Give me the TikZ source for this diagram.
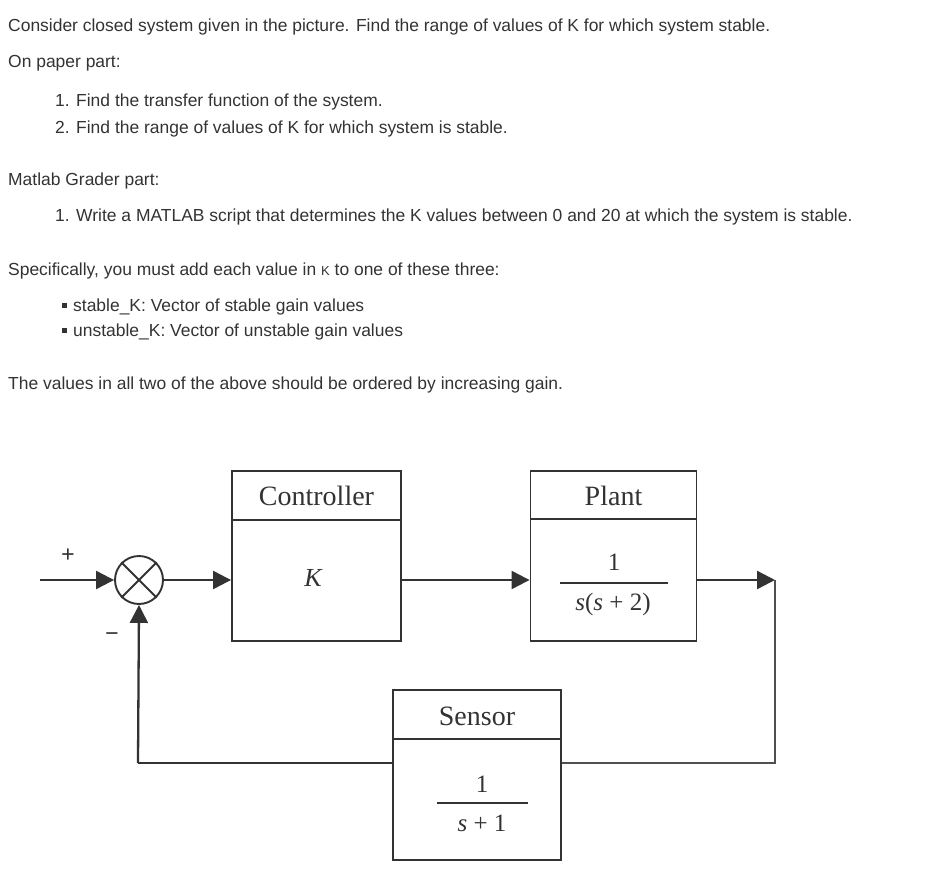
\documentclass[tikz,border=0pt]{standalone}
\usepackage{fontspec}
\setmainfont{Liberation Sans}
\newfontfamily\dfont{Liberation Serif}
\usetikzlibrary{arrows.meta}
\definecolor{txt}{HTML}{333333}
\definecolor{ln}{HTML}{333333}
\definecolor{lnthin}{HTML}{505050}
\begin{document}
\begin{tikzpicture}[x=1pt,y=-1pt,
  para/.style={anchor=base west, inner sep=0pt, text=txt, font=\fontsize{17.45}{20}\selectfont},
  bulletsq/.style={fill=txt, draw=none, minimum size=5pt, inner sep=0pt},
  blk/.style={draw=ln, line width=1.9pt, inner sep=0pt},
  ttl/.style={inner sep=0pt, text=ln, font=\dfont\fontsize{28}{30}\selectfont},
  frac/.style={inner sep=0pt, text=ln, font=\dfont\fontsize{25}{27}\selectfont},
  sgn/.style={inner sep=0pt, text=ln, font=\dfont\bfseries\fontsize{24}{26}\selectfont},
  wire/.style={draw=ln, line width=2.3pt},
  thinwire/.style={draw=lnthin, line width=1.5pt},
  arr/.style={wire, -{Triangle[length=18pt,width=18pt]}},
  sumj/.style={circle, draw=ln, line width=1.9pt, minimum size=48pt, inner sep=0pt}
]
\useasboundingbox[fill=white] (0,0) rectangle (929,869);

% ---------- text ----------
\node[para] (t1) at (8,32) {Consider closed system given in the picture. Find the range of values of K for which system stable.};
\node[para] (t2) at (8,68) {On paper part:};
\node[para] (t3) at (55,107) {1. Find the transfer function of the system.};
\node[para] (t4) at (55,134) {2. Find the range of values of K for which system is stable.};
\node[para] (t5) at (8,186) {Matlab Grader part:};
\node[para] (t6) at (55,222) {1. Write a MATLAB script that determines the K values between 0 and 20 at which the system is stable.};
\node[para] (t7) at (8,275) {Specifically, you must add each value in {\fontsize{13}{15}\selectfont K} to one of these three:};
\node[bulletsq] (b1) at (64,305) {};
\node[para] (t8) at (73,311) {stable\_K: Vector of stable gain values};
\node[bulletsq] (b2) at (64,330) {};
\node[para] (t9) at (73,336) {unstable\_K: Vector of unstable gain values};
\node[para] (t10) at (8,389) {The values in all two of the above should be ordered by increasing gain.};

% ---------- blocks ----------
\node[blk, minimum width=169pt, minimum height=170pt] (ctrl) at (316.5,556) {};
\draw[draw=ln, line width=1.3pt] (232,520) -- (401,520);
\node[ttl] (ctrlT) at (316.5,496) {Controller};
\node[frac, font=\dfont\itshape\fontsize{26}{28}\selectfont] (ctrlK) at (313,578) {K};

\node[blk, minimum width=166pt, minimum height=170pt] (plant) at (613.5,556) {};
\draw[draw=ln, line width=1.9pt] (530,519) -- (696,519);
\node[ttl] (plantT) at (613.5,496) {Plant};
\node[frac] (plantN) at (614,562) {1};
\draw[draw=ln, line width=1.8pt] (560,583) -- (668,583);
\node[frac] (plantD) at (613,604) {\textit{s}(\textit{s} + 2)};

\node[blk, minimum width=168pt, minimum height=170pt] (sens) at (477,775) {};
\draw[draw=ln, line width=1.9pt] (393,739) -- (561,739);
\node[ttl] (sensT) at (477,716) {Sensor};
\node[frac] (sensN) at (482,784) {1};
\draw[draw=ln, line width=1.8pt] (437,803) -- (528,803);
\node[frac] (sensD) at (482,823) {\textit{s} + 1};

% ---------- summing junction ----------
\node[sumj] (sum) at (139,580) {};
\draw[draw=ln, line width=1.9pt] (sum.north west) -- (sum.south east);
\draw[draw=ln, line width=1.9pt] (sum.north east) -- (sum.south west);
\node[sgn] (plus) at (68,556) {+};
\node[sgn] (minus) at (112,637) {−};

% ---------- connectors ----------
\coordinate (inp) at (40,580);
\coordinate (outp) at (775,580);
\coordinate (fbR) at (775,763);
\coordinate (fbL) at (138,763);
\draw[arr] (inp) -- (sum.west);
\draw[arr] (sum.east) -- (sum.east -| ctrl.west);
\draw[arr] (ctrl.east |- sum) -- (plant.west |- sum);
\draw[arr] (plant.east |- sum) -- (outp);
\draw[thinwire] (outp) -- (fbR) -- (sens.east |- fbR);
\draw[wire] (sens.west |- fbR) -- (fbL);
\draw[arr] (fbL) -- (sum.south);
\end{tikzpicture}
\end{document}
